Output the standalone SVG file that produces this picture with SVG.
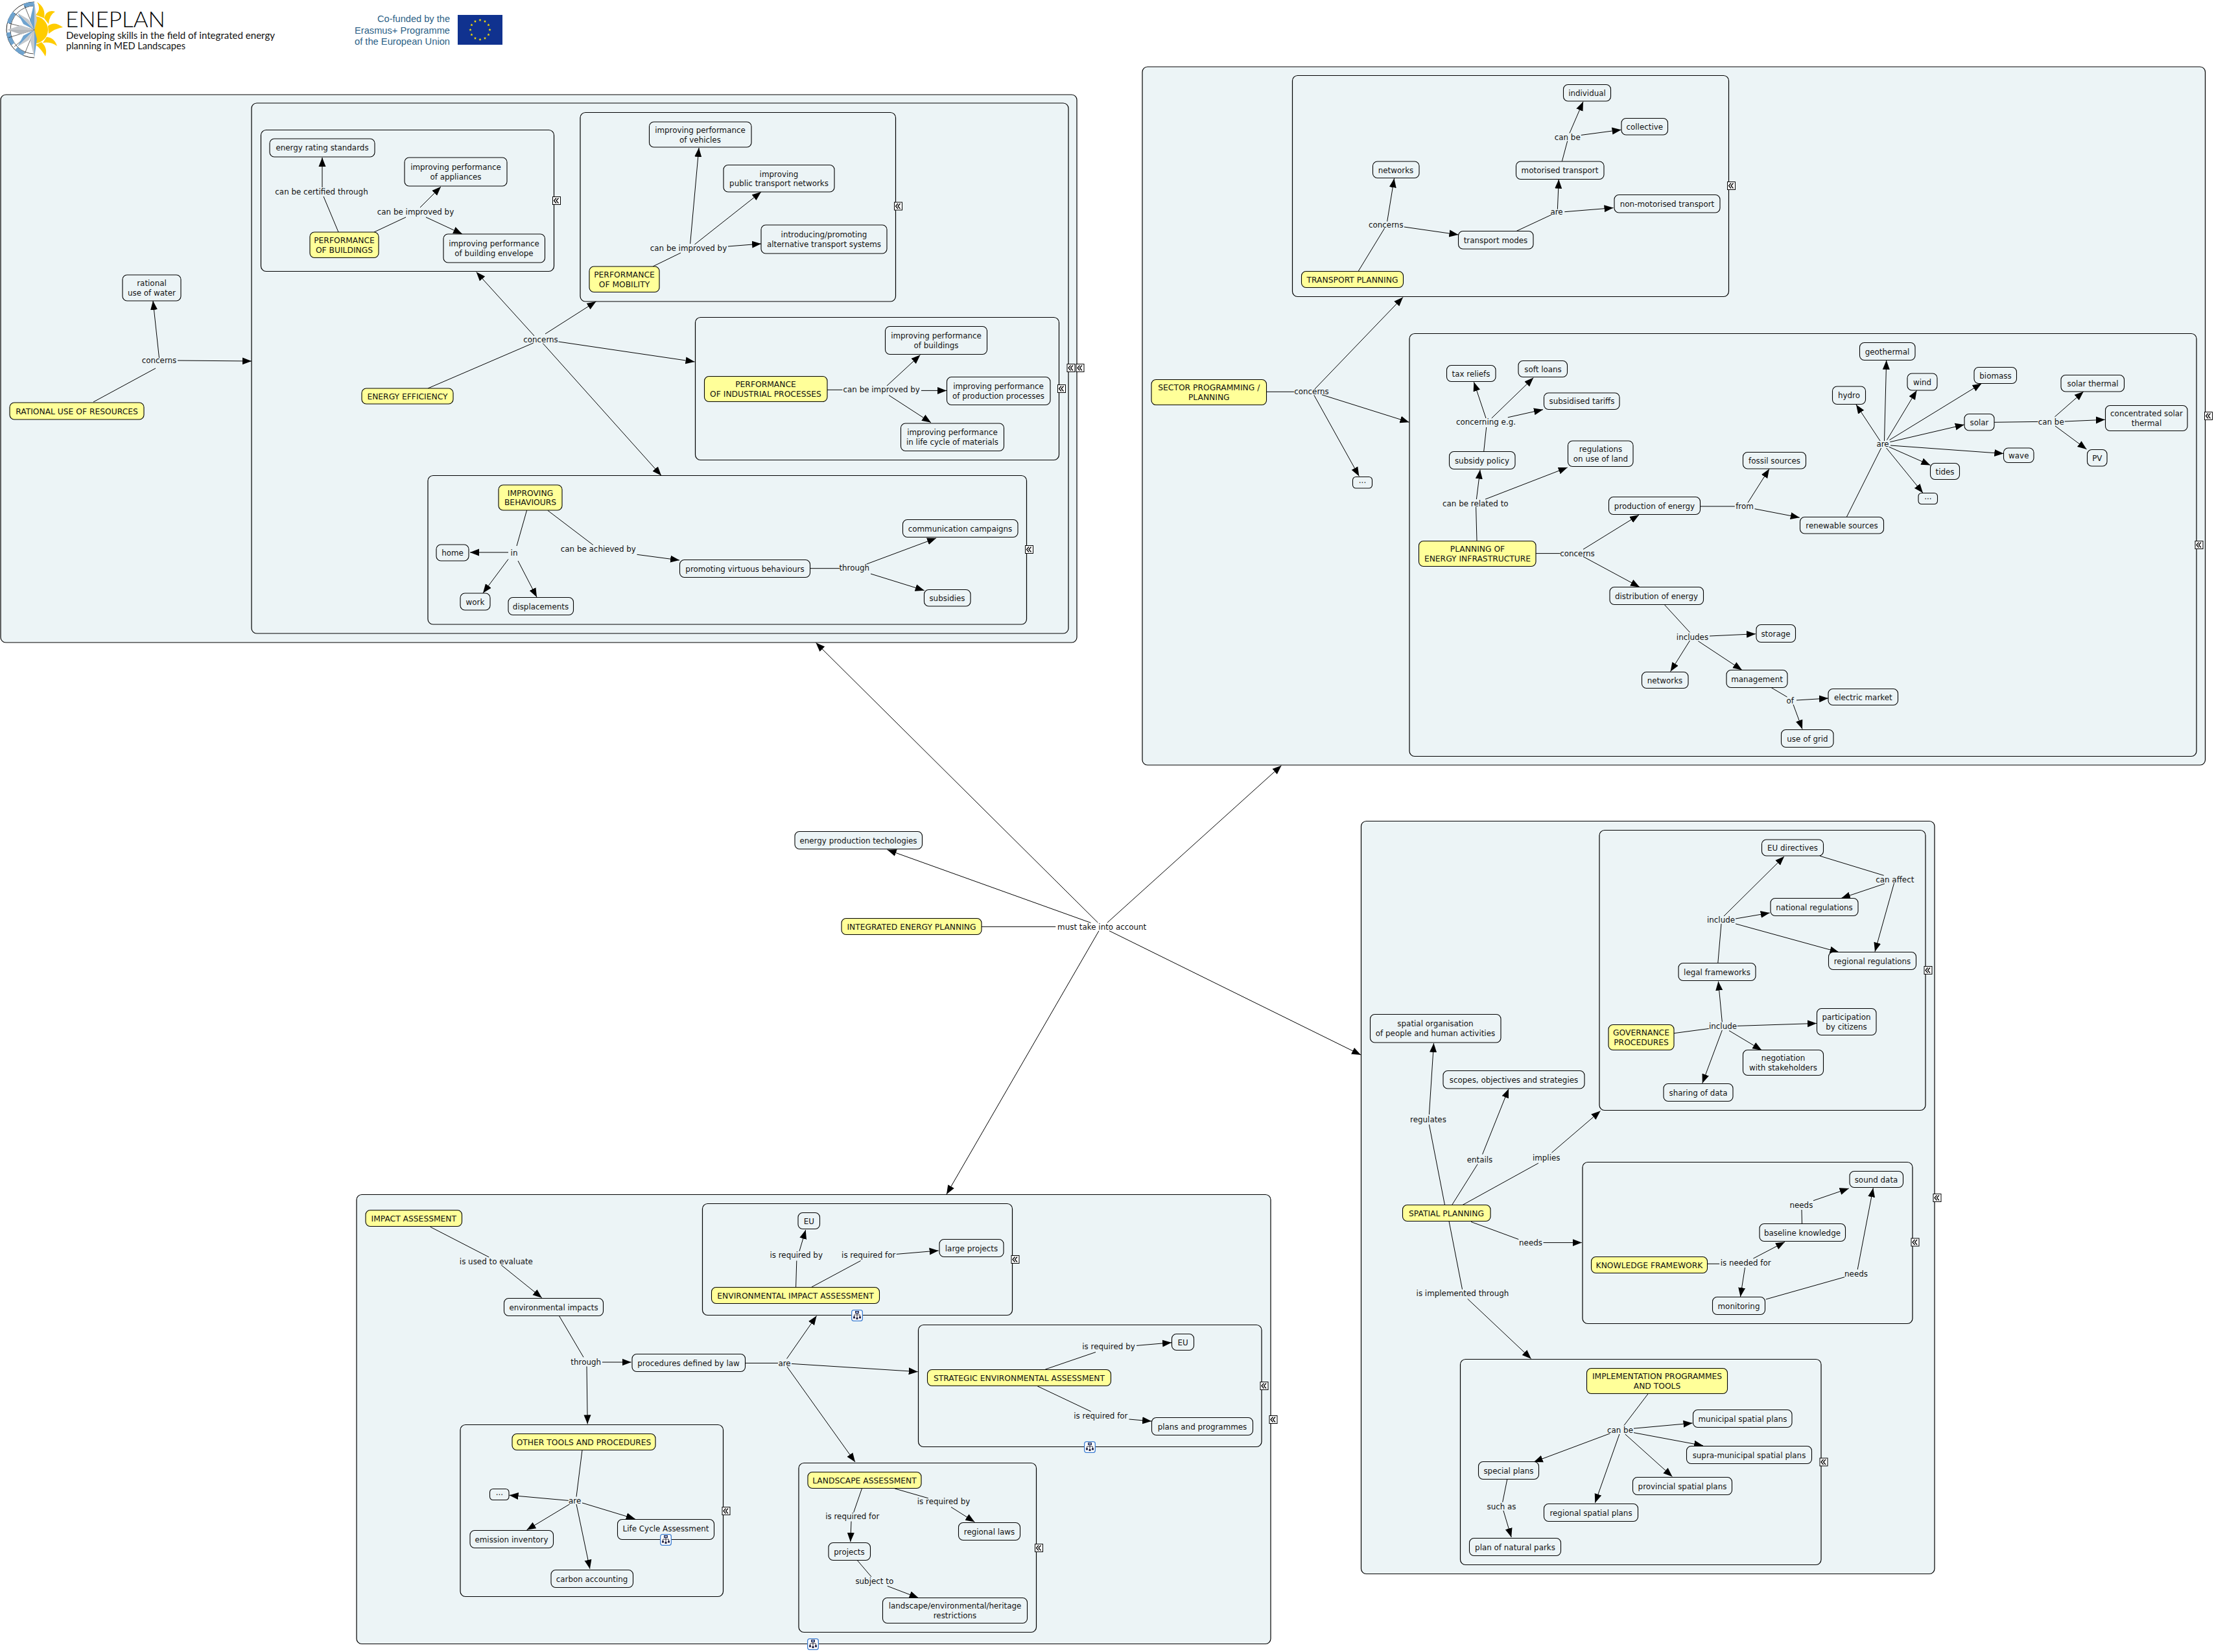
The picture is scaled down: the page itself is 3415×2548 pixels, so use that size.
<svg xmlns="http://www.w3.org/2000/svg" xmlns:xlink="http://www.w3.org/1999/xlink" width="3415" height="2548" viewBox="0 0 3415 2548">
<style>
text{font-family:"DejaVu Sans",Verdana,sans-serif;font-size:11.9px;fill:#111;text-anchor:middle}
.y text{font-size:12.3px}
.p rect{fill:#ecf4f6;stroke:#000;stroke-width:1.2}
.n rect{fill:#ecf4f6;stroke:#000;stroke-width:1.1}
.y rect{fill:#ffff99;stroke:#000;stroke-width:1.1}
#connectors path{fill:none;stroke:#000;stroke-width:1}
#connectors path.a{marker-end:url(#ah)}
#logos text{text-anchor:start}
</style>
<defs>
<marker id="ah" markerUnits="userSpaceOnUse" markerWidth="15" markerHeight="12" viewBox="0 0 15 12" refX="14" refY="6" orient="auto"><path d="M0,0.5L14,6L0,11.5Z" fill="#000"/></marker>
<symbol id="col" viewBox="0 0 13 13" overflow="visible"><rect x="0.5" y="0.5" width="12" height="12" fill="#fff" stroke="#000"/><path d="M6,2.5L2.5,6.5L6,10.5M9.5,2.5L6,6.5L9.5,10.5" fill="none" stroke="#000" stroke-width="1.3"/></symbol>
<symbol id="exp" viewBox="0 0 18 18" overflow="visible"><rect x="0.7" y="0.7" width="16.6" height="16.6" rx="3" fill="#fff" stroke="#3a7bd0" stroke-width="1.3"/><path d="M9,5V8M4.5,11V8H13.5V11M9,8V12" fill="none" stroke="#223" stroke-width="0.9"/><rect x="6.5" y="2.5" width="5" height="3" fill="#8aa8d8" stroke="#224"/><rect x="3" y="10.5" width="3" height="3" fill="#224"/><rect x="7.5" y="12" width="3" height="3" fill="#224"/><rect x="12" y="10.5" width="3" height="3" fill="#224"/></symbol>
<polygon id="st" points="0,-2.2 0.6,-0.7 2.1,-0.7 0.9,0.2 1.3,1.8 0,0.9 -1.3,1.8 -0.9,0.2 -2.1,-0.7 -0.6,-0.7" fill="#ffe500"/>
</defs>
<rect width="3415" height="2548" fill="#fff"/>
<g id="logos">
<g id="logo-eneplan">
<g fill="#ffcc00">
<path d="M53,25A21,21 0 0 1 53,67Z"/>
<path d="M55,23Q64,14 57,3Q71,12 68,28Z"/>
<path d="M68,28Q72,14 85,18Q76,23 75,37Z"/>
<path d="M74,40Q84,32 97,42Q85,44 75,52Z"/>
<path d="M72,57Q84,58 88,71Q78,64 66,66Z"/>
<path d="M64,65Q74,74 70,87Q64,76 55,69Z"/>
</g>
<path d="M53,3A43,43 0 0 0 53,89" fill="#fff" stroke="#222" stroke-width="1"/>
<path d="M53,9A37,37 0 0 0 53,83" fill="none" stroke="#222" stroke-width="0.8"/>
<g fill="none" stroke="#6ea3cf" stroke-width="6"><path d="M52,6A40,40 0 0 0 37,9"/><path d="M22,20A40,40 0 0 0 14,36"/><path d="M13,50A40,40 0 0 0 20,68"/><path d="M25,75A40,40 0 0 0 37,83"/></g>
<g stroke="#222" stroke-width="0.7"><path d="M53,46L38,9M53,46L22,20M53,46L14,36M53,46L13,58M53,46L22,72M53,46L38,83"/></g>
<polygon points="53,46 53,3 46,32" fill="#6ea3cf"/><polygon points="53,46 53,3 57,32" fill="#c4c8cc"/>
<polygon points="53,46 53,89 46,60" fill="#c4c8cc"/><polygon points="53,46 53,89 57,60" fill="#6ea3cf"/>
<polygon points="53,46 27,20 36,37" fill="#6ea3cf"/><polygon points="53,46 27,20 44,30" fill="#c4c8cc"/>
<polygon points="53,46 27,72 36,55" fill="#6ea3cf"/><polygon points="53,46 27,72 44,62" fill="#c4c8cc"/>
<polygon points="53,46 11,46 32,39" fill="#c4c8cc"/><polygon points="53,46 11,46 32,53" fill="#b4b8bc"/>
<text x="101" y="42" textLength="154" lengthAdjust="spacingAndGlyphs" style="font-family:'Lato',sans-serif;font-size:34px;font-weight:300;fill:#000">ENEPLAN</text>
<text x="102" y="60" textLength="322" lengthAdjust="spacingAndGlyphs" style="font-family:'Lato',sans-serif;font-size:15.5px;fill:#111">Developing skills in the field of integrated energy</text>
<text x="102" y="76" textLength="184" lengthAdjust="spacingAndGlyphs" style="font-family:'Lato',sans-serif;font-size:15.5px;fill:#111">planning in MED Landscapes</text>
</g>
<g id="logo-eu">
<text x="694" y="34" textLength="112" lengthAdjust="spacingAndGlyphs" style="text-anchor:end;font-family:'Liberation Sans',sans-serif;font-size:15px;fill:#2b5f86">Co-funded by the</text>
<text x="694" y="52" textLength="147" lengthAdjust="spacingAndGlyphs" style="text-anchor:end;font-family:'Liberation Sans',sans-serif;font-size:15px;fill:#2b5f86">Erasmus+ Programme</text>
<text x="694" y="69" textLength="147" lengthAdjust="spacingAndGlyphs" style="text-anchor:end;font-family:'Liberation Sans',sans-serif;font-size:15px;fill:#2b5f86">of the European Union</text>
<rect x="706" y="23" width="69" height="46" fill="#10328f"/>
<use xlink:href="#st" x="740.5" y="31"/><use xlink:href="#st" x="748" y="33"/><use xlink:href="#st" x="753.5" y="38.5"/><use xlink:href="#st" x="755.5" y="46"/><use xlink:href="#st" x="753.5" y="53.5"/><use xlink:href="#st" x="748" y="59"/><use xlink:href="#st" x="740.5" y="61"/><use xlink:href="#st" x="733" y="59"/><use xlink:href="#st" x="727.5" y="53.5"/><use xlink:href="#st" x="725.5" y="46"/><use xlink:href="#st" x="727.5" y="38.5"/><use xlink:href="#st" x="733" y="33"/>
</g>
</g>
<g id="panels">
<g id="panel-rational" class="p"><rect x="1" y="146" width="1660" height="845" rx="8"/></g>
<g id="panel-efficiency" class="p"><rect x="388" y="159" width="1260" height="818" rx="8"/></g>
<g id="panel-buildings" class="p"><rect x="402.5" y="200.5" width="452" height="218" rx="8"/></g>
<g id="panel-mobility" class="p"><rect x="895" y="173.5" width="486.5" height="291.5" rx="8"/></g>
<g id="panel-industrial" class="p"><rect x="1072.5" y="489.5" width="561" height="220" rx="8"/></g>
<g id="panel-behaviours" class="p"><rect x="660" y="733.5" width="923.5" height="229.5" rx="8"/></g>
<g id="panel-sector" class="p"><rect x="1762" y="103" width="1639.5" height="1077" rx="8"/></g>
<g id="panel-transport" class="p"><rect x="1993.5" y="116.5" width="673" height="341" rx="8"/></g>
<g id="panel-infrastructure" class="p"><rect x="2174" y="514.5" width="1214" height="652" rx="8"/></g>
<g id="panel-spatial" class="p"><rect x="2099.5" y="1266.5" width="884.5" height="1161" rx="8"/></g>
<g id="panel-governance" class="p"><rect x="2467" y="1280.5" width="503" height="432" rx="8"/></g>
<g id="panel-knowledge" class="p"><rect x="2441" y="1792.5" width="509" height="249" rx="8"/></g>
<g id="panel-implementation" class="p"><rect x="2252.5" y="2096.5" width="556.5" height="317" rx="8"/></g>
<g id="panel-impact" class="p"><rect x="550" y="1842.5" width="1410" height="693" rx="8"/></g>
<g id="panel-eia" class="p"><rect x="1083.5" y="1856.5" width="478" height="172" rx="8"/></g>
<g id="panel-sea" class="p"><rect x="1416.5" y="2043.5" width="529.5" height="188" rx="8"/></g>
<g id="panel-landscape" class="p"><rect x="1232" y="2256.5" width="366.5" height="261" rx="8"/></g>
<g id="panel-other" class="p"><rect x="710" y="2197.5" width="405.5" height="265" rx="8"/></g>
</g>
<g id="connectors">
<path d="M144,620L240,568"/><path class="a" d="M245.5,552L236,464"/><path class="a" d="M274,556L388,557"/>
<path d="M522,358L499,303"/><path class="a" d="M497,289L497,243"/>
<path d="M577,358L626,335"/><path class="a" d="M648,320L680,288"/><path class="a" d="M657,335L713,361"/>
<path d="M1007,411L1050,390"/><path class="a" d="M1064.6,376L1078,228"/><path class="a" d="M1071.5,377L1174,296"/><path class="a" d="M1123,380L1174,376"/>
<path d="M1276,601.3L1299.4,601.3"/><path class="a" d="M1368,595L1419.4,547.6"/><path class="a" d="M1421,602.4L1460,602.4"/><path class="a" d="M1371,609.6L1436,651.8"/>
<path d="M844.8,787.3L914.8,840.5"/><path class="a" d="M982.5,855.3L1048,864"/>
<path d="M1249.5,876.7L1295,876.7"/><path class="a" d="M1336.7,870L1444,830"/><path class="a" d="M1343,885L1425.7,910.7"/>
<path d="M812.6,787L797,842"/><path class="a" d="M784,852L725,852"/><path class="a" d="M784,862.5L745,914.7"/><path class="a" d="M799,865L828,921"/>
<path d="M660,599L822.7,529"/><path class="a" d="M841,515L919.4,465"/><path class="a" d="M824,518L734.7,419.6"/><path class="a" d="M837.3,529.5L1020,733.5"/><path class="a" d="M861.4,527L1071.5,558"/>
<path d="M2095,418.6L2135.8,351.7"/><path class="a" d="M2139.7,341.5L2150.5,275.2"/><path class="a" d="M2165.8,350L2249.4,362"/>
<path d="M2339.3,356.3L2392.9,331.3"/><path class="a" d="M2402.4,322.7L2404.3,276.7"/><path class="a" d="M2413.3,326.7L2488.5,320.6"/>
<path d="M2409.4,248.7L2417.7,217.5"/><path class="a" d="M2421,205.3L2442,156.8"/><path class="a" d="M2438.8,208.4L2500.6,200.2"/>
<path d="M1953.4,604.3L1996,604.3"/><path class="a" d="M2028,600L2164,458.4"/><path class="a" d="M2039,608.9L2173.5,651.2"/><path class="a" d="M2026.8,609.4L2096.3,734.4"/>
<path d="M2288.7,696.4L2292.7,659"/><path class="a" d="M2292,645L2273.4,589.3"/><path class="a" d="M2300.8,645L2365.3,582.6"/><path class="a" d="M2325.8,643.8L2380,631.7"/>
<path d="M2278,834.4L2276.6,782"/><path class="a" d="M2277.4,770L2283,724.6"/><path class="a" d="M2291,770L2417.7,721"/>
<path d="M2369,853.6L2406.5,853.6"/><path class="a" d="M2442,847.3L2528,794.2"/><path class="a" d="M2442,858.5L2529,905.4"/>
<path d="M2622.6,781L2675.8,781"/><path class="a" d="M2696,775.4L2729,723.2"/><path class="a" d="M2706.5,784.8L2775.8,798.2"/>
<path d="M2848.4,797.3L2901.6,691"/><path class="a" d="M2900,680L2863,624"/><path class="a" d="M2906.5,680L2909.7,555.8"/><path class="a" d="M2910.5,678.6L2956.5,602.2"/><path class="a" d="M2914.5,678.6L3056.5,591.5"/><path class="a" d="M2915.3,681.7L3029.8,655"/><path class="a" d="M2916,687L3090.3,699.6"/><path class="a" d="M2913.7,689.3L2977.4,717.4"/><path class="a" d="M2909.7,691L2966,760.3"/>
<path d="M3075.8,651.3L3143.5,650.4"/><path class="a" d="M3169.4,642.9L3213.7,604"/><path class="a" d="M3184.7,650L3246.8,647.3"/><path class="a" d="M3170,657L3218.5,692.9"/>
<path d="M2567.7,933L2606.5,975.4"/><path class="a" d="M2637,981L2708,977.7"/><path class="a" d="M2606.5,988L2576.6,1035.7"/><path class="a" d="M2619.4,988.8L2687,1033.5"/>
<path d="M2732.3,1060.7L2756.5,1075"/><path class="a" d="M2771,1080L2820,1077"/><path class="a" d="M2766,1086.6L2780,1124.5"/>
<path d="M2807,1320.2L2905.7,1350.3"/><path class="a" d="M2907,1363L2840,1385.5"/><path class="a" d="M2921.6,1362L2892,1467.7"/>
<path d="M2649.8,1485.5L2655,1424.8"/><path class="a" d="M2659,1413L2752,1321"/><path class="a" d="M2677,1417L2729.7,1408"/><path class="a" d="M2677,1424.8L2836.5,1468.7"/>
<path d="M2581.8,1593.7L2635.8,1586.5"/><path class="a" d="M2656.3,1576.3L2650.4,1513.6"/><path class="a" d="M2679.8,1582.4L2802,1578.4"/><path class="a" d="M2667,1589.6L2717.3,1619.7"/><path class="a" d="M2656.3,1589L2625.8,1670.7"/>
<path d="M2633.4,1949.3L2652.2,1949.3"/><path class="a" d="M2704.4,1941L2753,1915.6"/><path class="a" d="M2691.5,1955L2684.5,2000"/>
<path d="M2779.5,1887.6L2779,1866"/><path class="a" d="M2797,1851.8L2851.7,1833"/>
<path d="M2723.8,2004L2845.3,1969.7"/><path class="a" d="M2865.2,1958L2889.3,1832.4"/>
<path d="M2228.5,1858.5L2204.4,1734.5"/><path class="a" d="M2204.4,1719L2211.5,1609"/>
<path d="M2239.6,1858.5L2279,1795.7"/><path class="a" d="M2286.6,1780.4L2327,1679.4"/>
<path d="M2256,1858.5L2372.9,1794"/><path class="a" d="M2393.4,1778L2468.5,1713.6"/>
<path d="M2269,1884.5L2342.3,1911.5"/><path class="a" d="M2380.5,1916.6L2439.8,1916.6"/>
<path d="M2235,1883.5L2255.5,1988.6"/><path class="a" d="M2263.7,2003.3L2361.7,2095.7"/>
<path d="M2541.9,2150L2505,2198.5"/><path class="a" d="M2520,2203.2L2610.5,2195"/><path class="a" d="M2520,2209.7L2627,2229.7"/><path class="a" d="M2506.7,2212L2579.4,2277.4"/><path class="a" d="M2497.9,2212L2460.3,2318"/><path class="a" d="M2483.2,2211L2365.8,2254.9"/>
<path d="M2324.7,2282L2317.7,2316.8"/><path class="a" d="M2318.9,2329.9L2331.2,2371"/>
<path d="M663.7,1892.3L754.3,1939"/><path class="a" d="M773.3,1951.3L835.8,2001.7"/>
<path d="M862.7,2030L900,2093.3"/><path class="a" d="M928.9,2101L973.6,2101"/><path class="a" d="M905,2107.5L906.2,2196.3"/>
<path d="M1149.3,2102.4L1200,2102.4"/><path class="a" d="M1213.6,2095.6L1259.5,2029.6"/><path class="a" d="M1221,2103.4L1415.7,2115.7"/><path class="a" d="M1214,2108L1319,2255"/>
<path d="M898,2236.6L889,2308.5"/><path class="a" d="M876.8,2314.4L785.6,2306.2"/><path class="a" d="M878.6,2320L812.5,2359.8"/><path class="a" d="M898,2318L979.7,2342.8"/><path class="a" d="M889,2320L909.9,2419.7"/>
<path d="M1227.6,1985.2L1228.8,1944.5"/><path class="a" d="M1233,1929.8L1242.7,1896.9"/>
<path d="M1251.8,1985.2L1327.6,1944.5"/><path class="a" d="M1382.7,1934.4L1447.6,1928.9"/>
<path d="M1612.4,2112L1690,2085.5"/><path class="a" d="M1753,2075.4L1807,2070.8"/>
<path d="M1600.3,2138L1682.7,2177"/><path class="a" d="M1741.5,2189L1776,2192"/>
<path d="M1380.3,2296L1431.8,2310.8"/><path class="a" d="M1467,2324.5L1503.3,2347.4"/>
<path d="M1329.4,2296L1316.7,2332.7"/><path class="a" d="M1313,2346.5L1311.8,2378"/>
<path d="M1322.7,2407L1344,2432"/><path class="a" d="M1368.8,2446.3L1416.7,2464.6"/>
<path d="M1514,1429.3L1628.3,1429.3"/><path class="a" d="M1682.5,1423.3L1368.7,1310.7"/><path class="a" d="M1693.4,1423L1258.4,991.3"/><path class="a" d="M1708,1423L1976.5,1180.7"/><path class="a" d="M1711,1435.7L2099,1627"/><path class="a" d="M1695,1435.7L1460,1842"/>
</g>
<g id="nodes">
<g id="n1" class="n"><rect x="416" y="214" width="162" height="28" rx="7"/><text x="497" y="232">energy rating standards</text></g>
<g id="n2" class="n"><rect x="624" y="243" width="158" height="44" rx="7"/><text x="703" y="262">improving performance</text><text x="703" y="276.8">of appliances</text></g>
<g id="n3" class="y"><rect x="478" y="358" width="106" height="39.5" rx="7"/><text x="531" y="375">PERFORMANCE</text><text x="531" y="389.8">OF BUILDINGS</text></g>
<g id="n4" class="n"><rect x="684" y="361" width="156.5" height="44" rx="7"/><text x="762" y="380">improving performance</text><text x="762" y="394.8">of building envelope</text></g>
<g id="n5" class="n"><rect x="189" y="424" width="90" height="40" rx="7"/><text x="234" y="441">rational</text><text x="234" y="455.8">use of water</text></g>
<g id="n6" class="y"><rect x="15" y="621" width="207" height="26" rx="7"/><text x="118.5" y="638.5">RATIONAL USE OF RESOURCES</text></g>
<g id="n7" class="n"><rect x="1001.5" y="188" width="157.5" height="39" rx="7"/><text x="1080" y="205">improving performance</text><text x="1080" y="219.8">of vehicles</text></g>
<g id="n8" class="n"><rect x="1116" y="254.5" width="171" height="41.5" rx="7"/><text x="1201.5" y="272.5">improving</text><text x="1201.5" y="287.3">public transport networks</text></g>
<g id="n9" class="n"><rect x="1174" y="347" width="194" height="44" rx="7"/><text x="1271" y="366">introducing/promoting</text><text x="1271" y="380.8">alternative transport systems</text></g>
<g id="n10" class="y"><rect x="909" y="411" width="108" height="39.5" rx="7"/><text x="963" y="428">PERFORMANCE</text><text x="963" y="442.8">OF MOBILITY</text></g>
<g id="n11" class="n"><rect x="1365.5" y="503.5" width="157" height="43" rx="7"/><text x="1444" y="522">improving performance</text><text x="1444" y="536.8">of buildings</text></g>
<g id="n12" class="n"><rect x="1460.5" y="581.5" width="159.5" height="43" rx="7"/><text x="1540" y="600">improving performance</text><text x="1540" y="614.8">of production processes</text></g>
<g id="n13" class="n"><rect x="1389.5" y="653" width="159" height="42.5" rx="7"/><text x="1469" y="671">improving performance</text><text x="1469" y="685.8">in life cycle of materials</text></g>
<g id="n14" class="y"><rect x="1086.5" y="580.5" width="189.5" height="39" rx="7"/><text x="1181" y="597">PERFORMANCE</text><text x="1181" y="611.8">OF INDUSTRIAL PROCESSES</text></g>
<g id="n15" class="y"><rect x="769" y="748" width="98" height="39" rx="7"/><text x="818" y="764.5">IMPROVING</text><text x="818" y="779.3">BEHAVIOURS</text></g>
<g id="n16" class="n"><rect x="1048.5" y="863.5" width="201" height="27" rx="7"/><text x="1149" y="881.5">promoting virtuous behaviours</text></g>
<g id="n17" class="n"><rect x="1392.5" y="801.5" width="177.5" height="27" rx="7"/><text x="1481" y="819.5">communication campaigns</text></g>
<g id="n18" class="n"><rect x="1425.5" y="909.5" width="71.5" height="25.5" rx="7"/><text x="1461" y="926.8">subsidies</text></g>
<g id="n19" class="n"><rect x="784" y="921.5" width="100.5" height="27" rx="7"/><text x="834" y="939.5">displacements</text></g>
<g id="n20" class="n"><rect x="673" y="840" width="50" height="25" rx="7"/><text x="698" y="857">home</text></g>
<g id="n21" class="n"><rect x="710" y="915" width="46" height="26" rx="7"/><text x="733" y="932.5">work</text></g>
<g id="n22" class="y"><rect x="558" y="599" width="141" height="24" rx="7"/><text x="628.5" y="615.5">ENERGY EFFICIENCY</text></g>
<g id="n23" class="n"><rect x="2411.5" y="130.5" width="73" height="25.5" rx="7"/><text x="2448" y="148">individual</text></g>
<g id="n24" class="n"><rect x="2501" y="182.5" width="71.5" height="25.5" rx="7"/><text x="2536.8" y="200">collective</text></g>
<g id="n25" class="n"><rect x="2117.5" y="249" width="71.5" height="25.5" rx="7"/><text x="2153" y="266.5">networks</text></g>
<g id="n26" class="n"><rect x="2338.5" y="249" width="135.5" height="27.5" rx="7"/><text x="2406" y="267">motorised transport</text></g>
<g id="n27" class="n"><rect x="2490" y="300.5" width="163" height="27.5" rx="7"/><text x="2571.5" y="319">non-motorised transport</text></g>
<g id="n28" class="n"><rect x="2249.5" y="356.5" width="115.5" height="27.5" rx="7"/><text x="2307" y="374.8">transport modes</text></g>
<g id="n29" class="y"><rect x="2007.5" y="418.5" width="157" height="25" rx="7"/><text x="2086" y="435.5">TRANSPORT PLANNING</text></g>
<g id="n30" class="y"><rect x="1776" y="585.5" width="177.5" height="39" rx="7"/><text x="1864.8" y="602">SECTOR PROGRAMMING /</text><text x="1864.8" y="616.8">PLANNING</text></g>
<g id="n31" class="n"><rect x="2086.5" y="735.5" width="30" height="17.5" rx="5"/><text x="2101.5" y="745">...</text></g>
<g id="n32" class="n"><rect x="2231.5" y="563.5" width="75.5" height="25" rx="7"/><text x="2269" y="580.5">tax reliefs</text></g>
<g id="n33" class="n"><rect x="2342" y="556.5" width="75.5" height="25" rx="7"/><text x="2380" y="573.5">soft loans</text></g>
<g id="n34" class="n"><rect x="2381.5" y="606" width="116.5" height="25.5" rx="7"/><text x="2440" y="623.3">subsidised tariffs</text></g>
<g id="n35" class="n"><rect x="2418.5" y="680" width="100.5" height="39.5" rx="7"/><text x="2469" y="697">regulations</text><text x="2469" y="711.8">on use of land</text></g>
<g id="n36" class="n"><rect x="2235.5" y="696.5" width="101.5" height="27" rx="7"/><text x="2286" y="714.5">subsidy policy</text></g>
<g id="n37" class="y"><rect x="2188.5" y="834.5" width="180.5" height="39" rx="7"/><text x="2279" y="851">PLANNING OF</text><text x="2279" y="865.8">ENERGY INFRASTRUCTURE</text></g>
<g id="n38" class="n"><rect x="2481.5" y="766.5" width="141" height="27" rx="7"/><text x="2552" y="784.5">production of energy</text></g>
<g id="n39" class="n"><rect x="2688.5" y="697.5" width="97" height="25.5" rx="7"/><text x="2737" y="714.8">fossil sources</text></g>
<g id="n40" class="n"><rect x="2776.5" y="797.5" width="129" height="25.5" rx="7"/><text x="2841" y="814.8">renewable sources</text></g>
<g id="n41" class="n"><rect x="2483" y="905.5" width="144.5" height="27" rx="7"/><text x="2555" y="923.5">distribution of energy</text></g>
<g id="n42" class="n"><rect x="2709" y="963.5" width="60.5" height="27" rx="7"/><text x="2739" y="981.5">storage</text></g>
<g id="n43" class="n"><rect x="2532.5" y="1036.5" width="71.5" height="25" rx="7"/><text x="2568" y="1053.5">networks</text></g>
<g id="n44" class="n"><rect x="2663" y="1033.5" width="94" height="27" rx="7"/><text x="2710" y="1051.5">management</text></g>
<g id="n45" class="n"><rect x="2820" y="1062.5" width="107.5" height="25" rx="7"/><text x="2873.8" y="1079.5">electric market</text></g>
<g id="n46" class="n"><rect x="2747.5" y="1125.5" width="80.5" height="27" rx="7"/><text x="2788" y="1143.5">use of grid</text></g>
<g id="n47" class="n"><rect x="2868.5" y="528.5" width="85.5" height="27" rx="7"/><text x="2911" y="546.5">geothermal</text></g>
<g id="n48" class="n"><rect x="2826.5" y="596" width="51" height="27.5" rx="7"/><text x="2852" y="614">hydro</text></g>
<g id="n49" class="n"><rect x="2942" y="576" width="46" height="26" rx="7"/><text x="2965" y="593.5">wind</text></g>
<g id="n50" class="n"><rect x="3045" y="566.5" width="65.5" height="25" rx="7"/><text x="3078" y="583.5">biomass</text></g>
<g id="n51" class="n"><rect x="3030" y="638.5" width="46" height="25.5" rx="7"/><text x="3053" y="656">solar</text></g>
<g id="n52" class="n"><rect x="3090.5" y="691" width="46.5" height="22.5" rx="7"/><text x="3113.8" y="706.8">wave</text></g>
<g id="n53" class="n"><rect x="2977.5" y="714.5" width="45" height="25" rx="7"/><text x="3000" y="731.5">tides</text></g>
<g id="n54" class="n"><rect x="2959" y="760.5" width="29.5" height="17" rx="5"/><text x="2973.8" y="770">...</text></g>
<g id="n55" class="n"><rect x="3179" y="578.5" width="97.5" height="25.5" rx="7"/><text x="3228" y="596">solar thermal</text></g>
<g id="n56" class="n"><rect x="3247.5" y="625.5" width="126.5" height="39" rx="7"/><text x="3311" y="642">concentrated solar</text><text x="3311" y="656.8">thermal</text></g>
<g id="n57" class="n"><rect x="3219.5" y="693.5" width="30.5" height="25.5" rx="7"/><text x="3234.8" y="711">PV</text></g>
<g id="n58" class="n"><rect x="2717.5" y="1295" width="95" height="25" rx="7"/><text x="2765" y="1312">EU directives</text></g>
<g id="n59" class="n"><rect x="2731" y="1385.5" width="135" height="27" rx="7"/><text x="2798.5" y="1403.5">national regulations</text></g>
<g id="n60" class="n"><rect x="2820.5" y="1468.5" width="135" height="27" rx="7"/><text x="2888" y="1486.5">regional regulations</text></g>
<g id="n61" class="n"><rect x="2589" y="1485.5" width="119" height="27" rx="7"/><text x="2648.5" y="1503.5">legal frameworks</text></g>
<g id="n62" class="n"><rect x="2802.5" y="1555.5" width="91.5" height="41" rx="7"/><text x="2848" y="1573">participation</text><text x="2848" y="1587.8">by citizens</text></g>
<g id="n63" class="y"><rect x="2481" y="1580.5" width="101" height="39" rx="7"/><text x="2531.5" y="1597">GOVERNANCE</text><text x="2531.5" y="1611.8">PROCEDURES</text></g>
<g id="n64" class="n"><rect x="2688.5" y="1619.5" width="124" height="39" rx="7"/><text x="2750.5" y="1636">negotiation</text><text x="2750.5" y="1650.8">with stakeholders</text></g>
<g id="n65" class="n"><rect x="2566" y="1671.5" width="107" height="27" rx="7"/><text x="2619.5" y="1689.5">sharing of data</text></g>
<g id="n66" class="n"><rect x="2853" y="1806.5" width="82.5" height="25" rx="7"/><text x="2894" y="1823.5">sound data</text></g>
<g id="n67" class="n"><rect x="2714" y="1887.5" width="132.5" height="27" rx="7"/><text x="2780" y="1905.5">baseline knowledge</text></g>
<g id="n68" class="y"><rect x="2454.5" y="1938.5" width="179" height="25" rx="7"/><text x="2544" y="1955.5">KNOWLEDGE FRAMEWORK</text></g>
<g id="n69" class="n"><rect x="2641.5" y="2000.5" width="81" height="27" rx="7"/><text x="2682" y="2018.5">monitoring</text></g>
<g id="n70" class="n"><rect x="2113.5" y="1564.5" width="201.5" height="43.5" rx="7"/><text x="2214" y="1583">spatial organisation</text><text x="2214" y="1597.8">of people and human activities</text></g>
<g id="n71" class="n"><rect x="2226" y="1651.5" width="218" height="27.5" rx="7"/><text x="2335" y="1669.8">scopes, objectives and strategies</text></g>
<g id="n72" class="y"><rect x="2163.5" y="1858.5" width="135.5" height="25" rx="7"/><text x="2231" y="1875.5">SPATIAL PLANNING</text></g>
<g id="n73" class="y"><rect x="2447.5" y="2110.5" width="217" height="39" rx="7"/><text x="2556" y="2127">IMPLEMENTATION PROGRAMMES</text><text x="2556" y="2141.8">AND TOOLS</text></g>
<g id="n74" class="n"><rect x="2611.5" y="2174.5" width="152.5" height="27" rx="7"/><text x="2688" y="2192.5">municipal spatial plans</text></g>
<g id="n75" class="n"><rect x="2601.5" y="2230.5" width="193" height="27" rx="7"/><text x="2698" y="2248.5">supra-municipal spatial plans</text></g>
<g id="n76" class="n"><rect x="2518.5" y="2278.5" width="153" height="27" rx="7"/><text x="2595" y="2296.5">provincial spatial plans</text></g>
<g id="n77" class="n"><rect x="2381.5" y="2319.5" width="145" height="27" rx="7"/><text x="2454" y="2337.5">regional spatial plans</text></g>
<g id="n78" class="n"><rect x="2280.5" y="2254.5" width="93" height="27" rx="7"/><text x="2327" y="2272.5">special plans</text></g>
<g id="n79" class="n"><rect x="2266.5" y="2372.5" width="141" height="27" rx="7"/><text x="2337" y="2390.5">plan of natural parks</text></g>
<g id="n80" class="y"><rect x="564" y="1866.5" width="148.5" height="25" rx="7"/><text x="638.3" y="1883.5">IMPACT ASSESSMENT</text></g>
<g id="n81" class="n"><rect x="777.5" y="2002.5" width="153" height="27" rx="7"/><text x="854" y="2020.5">environmental impacts</text></g>
<g id="n82" class="n"><rect x="975" y="2088.5" width="174.5" height="27" rx="7"/><text x="1062" y="2106.5">procedures defined by law</text></g>
<g id="n83" class="y"><rect x="790" y="2211.5" width="221" height="25" rx="7"/><text x="900.5" y="2228.5">OTHER TOOLS AND PROCEDURES</text></g>
<g id="n84" class="n"><rect x="755.5" y="2296.5" width="29.5" height="17" rx="5"/><text x="770.3" y="2306">...</text></g>
<g id="n85" class="n"><rect x="725" y="2360.5" width="128.5" height="27" rx="7"/><text x="789" y="2378.5">emission inventory</text></g>
<g id="n86" class="n"><rect x="952.5" y="2343.5" width="149" height="31" rx="7"/><text x="1027" y="2361.5">Life Cycle Assessment</text></g>
<g id="n87" class="n"><rect x="850" y="2421.5" width="126.5" height="27" rx="7"/><text x="913" y="2439.5">carbon accounting</text></g>
<g id="n88" class="n"><rect x="1231" y="1870.5" width="33.5" height="25" rx="7"/><text x="1247.8" y="1887.5">EU</text></g>
<g id="n89" class="n"><rect x="1449" y="1911.5" width="99" height="27" rx="7"/><text x="1498.5" y="1929.5">large projects</text></g>
<g id="n90" class="y"><rect x="1097.5" y="1985.5" width="259" height="25" rx="7"/><text x="1227" y="2002.5">ENVIRONMENTAL IMPACT ASSESSMENT</text></g>
<g id="n91" class="y"><rect x="1430.5" y="2112.5" width="283" height="25" rx="7"/><text x="1572" y="2129.5">STRATEGIC ENVIRONMENTAL ASSESSMENT</text></g>
<g id="n92" class="n"><rect x="1807.5" y="2057.5" width="34" height="25" rx="7"/><text x="1824.5" y="2074.5">EU</text></g>
<g id="n93" class="n"><rect x="1776.5" y="2186.5" width="156" height="27" rx="7"/><text x="1854.5" y="2204.5">plans and programmes</text></g>
<g id="n94" class="y"><rect x="1246" y="2270.5" width="175" height="25" rx="7"/><text x="1333.5" y="2287.5">LANDSCAPE ASSESSMENT</text></g>
<g id="n95" class="n"><rect x="1478.5" y="2348.5" width="95" height="27" rx="7"/><text x="1526" y="2366.5">regional laws</text></g>
<g id="n96" class="n"><rect x="1278" y="2379.5" width="64.5" height="27" rx="7"/><text x="1310" y="2397.5">projects</text></g>
<g id="n97" class="n"><rect x="1361.5" y="2464.5" width="223" height="39" rx="7"/><text x="1473" y="2481">landscape/environmental/heritage</text><text x="1473" y="2495.8">restrictions</text></g>
<g id="n98" class="n"><rect x="1226" y="1282.5" width="196.5" height="27" rx="7"/><text x="1324" y="1300.5">energy production techologies</text></g>
<g id="n99" class="y"><rect x="1298" y="1416.5" width="216" height="25" rx="7"/><text x="1406" y="1433.5">INTEGRATED ENERGY PLANNING</text></g>
</g>
<g id="labels">
<text x="245.5" y="560">concerns</text>
<text x="496" y="299.5">can be certified through</text>
<text x="641" y="330.5">can be improved by</text>
<text x="1062" y="386.5">can be improved by</text>
<text x="1359.7" y="605.3">can be improved by</text>
<text x="922.8" y="850.5">can be achieved by</text>
<text x="1317.8" y="879.5">through</text>
<text x="793" y="856.5">in</text>
<text x="834" y="527.5">concerns</text>
<text x="2137.8" y="350.5">concerns</text>
<text x="2401" y="331">are</text>
<text x="2417.7" y="215.5">can be</text>
<text x="2023" y="608.3">concerns</text>
<text x="2292" y="654.5">concerning e.g.</text>
<text x="2275.8" y="780.8">can be related to</text>
<text x="2433" y="857.5">concerns</text>
<text x="2691" y="785.3">from</text>
<text x="2904" y="689.3">are</text>
<text x="3163.7" y="654.5">can be</text>
<text x="2610.5" y="986.5">includes</text>
<text x="2761.3" y="1084.5">of</text>
<text x="2922.8" y="1360.5">can affect</text>
<text x="2654.5" y="1423.2">include</text>
<text x="2657.5" y="1586.9">include</text>
<text x="2692.7" y="1952.3">is needed for</text>
<text x="2778.4" y="1863">needs</text>
<text x="2863" y="1968.5">needs</text>
<text x="2203" y="1731.3">regulates</text>
<text x="2282.5" y="1792.5">entails</text>
<text x="2385.2" y="1789.5">implies</text>
<text x="2361" y="1920.5">needs</text>
<text x="2256" y="1999.2">is implemented through</text>
<text x="2499" y="2209.5">can be</text>
<text x="2316" y="2327.5">such as</text>
<text x="765.4" y="1949.5">is used to evaluate</text>
<text x="903.7" y="2104.5">through</text>
<text x="1210" y="2106.5">are</text>
<text x="886.6" y="2319.4">are</text>
<text x="1228.2" y="1940.3">is required by</text>
<text x="1339.7" y="1940.3">is required for</text>
<text x="1710" y="2081.3">is required by</text>
<text x="1697.9" y="2187.5">is required for</text>
<text x="1455.5" y="2320.3">is required by</text>
<text x="1314.8" y="2343.2">is required for</text>
<text x="1348.8" y="2442.5">subject to</text>
<text x="1699.7" y="1433.5">must take into account</text>
</g>
<g id="icons">
<use xlink:href="#col" x="852" y="303" width="13" height="13"/>
<use xlink:href="#col" x="1379" y="311.5" width="13" height="13"/>
<use xlink:href="#col" x="1631" y="593" width="13" height="13"/>
<use xlink:href="#col" x="1581" y="841" width="13" height="13"/>
<use xlink:href="#col" x="1645.5" y="561" width="13" height="13"/>
<use xlink:href="#col" x="1659.5" y="561" width="13" height="13"/>
<use xlink:href="#col" x="2664" y="280" width="13" height="13"/>
<use xlink:href="#col" x="3385.5" y="834" width="13" height="13"/>
<use xlink:href="#col" x="3400" y="635" width="13" height="13"/>
<use xlink:href="#col" x="2967.5" y="1490" width="13" height="13"/>
<use xlink:href="#col" x="2947.5" y="1909.5" width="13" height="13"/>
<use xlink:href="#col" x="2981.5" y="1841" width="13" height="13"/>
<use xlink:href="#col" x="2806.5" y="2248.5" width="13" height="13"/>
<use xlink:href="#col" x="1113.5" y="2324" width="13" height="13"/>
<use xlink:href="#col" x="1559.5" y="1936" width="13" height="13"/>
<use xlink:href="#col" x="1943.5" y="2131" width="13" height="13"/>
<use xlink:href="#col" x="1957.5" y="2183" width="13" height="13"/>
<use xlink:href="#col" x="1596" y="2381" width="13" height="13"/>
<use xlink:href="#exp" x="1018" y="2366" width="18" height="18"/>
<use xlink:href="#exp" x="1313" y="2020" width="18" height="18"/>
<use xlink:href="#exp" x="1672" y="2223" width="18" height="18"/>
<use xlink:href="#exp" x="1245" y="2527" width="18" height="18"/>
</g>
</svg>
